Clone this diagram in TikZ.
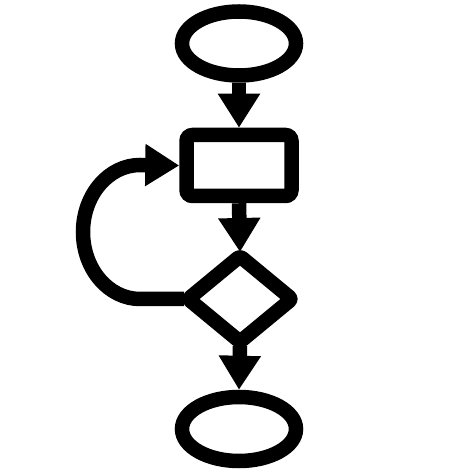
\documentclass[tikz,border=0pt]{standalone}
\usetikzlibrary{shapes.geometric,arrows.meta}
\begin{document}
\begin{tikzpicture}[x=1pt,y=1pt,
  stroke/.style={line width=14.5pt},
  term/.style={ellipse, draw, stroke, minimum width=114pt, minimum height=64pt, inner sep=0pt, outer sep=7.25pt},
  proc/.style={rectangle, draw, stroke, minimum width=105pt, minimum height=61pt, rounded corners=6pt, inner sep=0pt, outer sep=7.25pt},
  dec/.style={diamond, draw, stroke, minimum width=106pt, minimum height=88pt, inner sep=0pt, outer sep=3pt, rounded corners=3pt, line join=round},
  flow/.style={stroke, -{Triangle[width=40pt,length=34pt]}}]
\fill[white] (0,0) rectangle (474,474);
\node[term] (start) at (239,430.5) {};
\node[proc] (act) at (239,308.5) {};
\node[dec] (test) at (240,175) {};
\node[term] (stop) at (239,45) {};
\coordinate (lb) at (140,175);
\draw[flow] (start.south) -- (act.north);
\draw[flow] (act.south) -- (test.north);
\draw[flow] (test.south) -- (stop.north);
\draw[flow] (test.west) -- (lb) arc[start angle=270, end angle=90, x radius=57, y radius=67] -- (act.west);
\end{tikzpicture}
\end{document}
